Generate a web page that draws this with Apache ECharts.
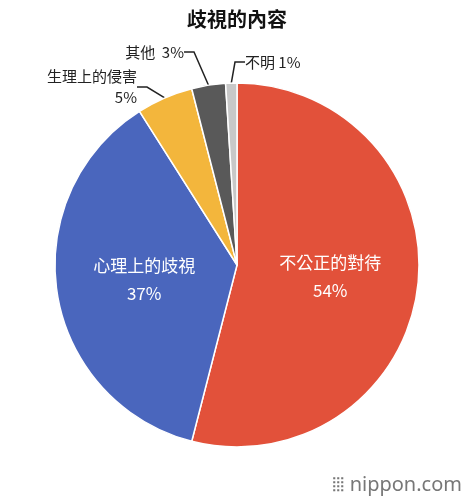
<!DOCTYPE html>
<html>
<head>
<meta charset="UTF-8">
<script src="https://cdn.jsdelivr.net/npm/echarts@6/dist/echarts.min.js"></script>
<style>
  html, body { margin: 0; padding: 0; background: #fff; }
  #main { width: 474px; height: 503px; }
  .wm { position: absolute; right: 12px; bottom: 6px; font: 20px "Noto Sans", sans-serif; color: #777; }
</style>
</head>
<body>
<div id="main"></div>
<div class="wm">⦙⦙⦙ nippon.com</div>
<script>
var names = ['不公正的對待', '心理上的歧視', '生理上的侵害', '其他', '不明'];
var values = [54, 37, 5, 3, 1];
var colors = ['#e2513a', '#4a66bd', '#f3b63c', '#595959', '#c8c8c8'];

var font = '"Noto Sans CJK TC", sans-serif';
var inner = { show: true, position: 'inside', color: '#fff', fontSize: 17, lineHeight: 28, fontFamily: font,
    formatter: function (p) { return p.name + '\n' + p.value + '%'; } };
var outer = { show: true, position: 'outside', color: '#222', fontSize: 15, lineHeight: 21, fontFamily: font,
    overflow: 'none', width: 200 };
var labelPos = {
    2: { x: 137, y: 87, align: 'right', text: '{b}\n{c}%' },
    3: { x: 184, y: 52, align: 'right', text: '{b}  {c}%' },
    4: { x: 245, y: 62, align: 'left', text: '{b} {c}%' }
};

var data = names.map(function (n, i) {
    var d = { name: n, value: values[i], itemStyle: { color: colors[i] } };
    if (labelPos[i]) {
        d.label = Object.assign({}, outer, { formatter: labelPos[i].text, align: labelPos[i].align });
        d.labelLine = { show: true, lineStyle: { color: '#222', width: 1.5 } };
    } else {
        d.label = inner;
    }
    return d;
});

var myChart = echarts.init(document.getElementById('main'));
myChart.setOption({
    animation: false,
    title: { text: '歧視的內容', left: 'center', top: 4,
        textStyle: { fontSize: 20, fontWeight: 'bold', color: '#111', fontFamily: font } },
    series: [{
        type: 'pie',
        center: [237, 265],
        radius: [0, 182],
        startAngle: 90,
        clockwise: true,
        itemStyle: { borderColor: '#fff', borderWidth: 1.5 },
        labelLine: { length: 15, length2: 10 },
        labelLayout: function (p) {
            var lp = labelPos[p.dataIndex];
            if (!lp) return {};
            return { x: lp.x, y: lp.y, align: lp.align, verticalAlign: 'middle' };
        },
        data: data
    }]
});
</script>
</body>
</html>
